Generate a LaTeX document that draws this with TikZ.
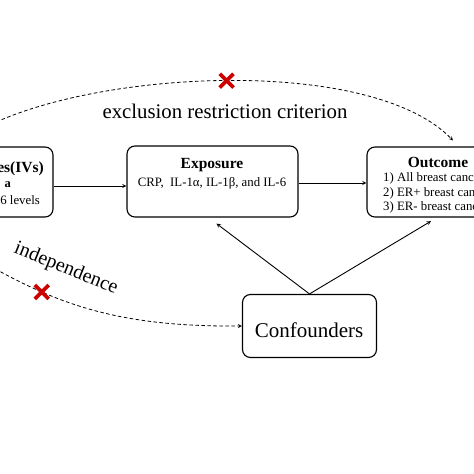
\documentclass[tikz,border=0pt]{standalone}
\usepackage{fontspec}
\setmainfont{Liberation Serif}
\usetikzlibrary{shapes,arrows,positioning,calc}

\begin{document}
\begin{tikzpicture}[
    x=1pt, y=-1pt,
    box/.style={rectangle, rounded corners=8pt, draw, line width=1.1pt},
    head/.style={inner sep=0pt, font=\fontsize{15.5}{18}\selectfont\bfseries},
    body/.style={inner sep=0pt, font=\fontsize{12.8}{14.6}\selectfont},
    arrow/.style={->,>=stealth,line width=0.9pt},
    dasharrow/.style={->,>=stealth,line width=0.8pt,dash pattern=on 3.5pt off 2.5pt},
    nogo/.style={cross out, solid, draw=red!80!black, line width=3.8pt, minimum size=10pt, inner sep=0pt}
]
\useasboundingbox (0,0) rectangle (474,474);

% Boxes
\node[box, minimum width=120pt, minimum height=70pt] (ivs) at (-7,182) {};
\node[box, minimum width=171pt, minimum height=71pt] (expo) at (212.5,181.5) {};
\node[box, minimum width=140pt, minimum height=70pt] (outc) at (437,182) {};
\node[box, minimum width=134pt, minimum height=63pt] (conf) at (309.5,326) {};

% Box texts
\node[head, anchor=east] (ivstitle) at (44,169) {es(IVs)};
\node[body, font=\fontsize{12.5}{14.6}\selectfont\bfseries, anchor=east] (ivsline) at (11,185) {a};
\node[body, anchor=east] (ivslevel) at (40,200) {-6 levels};

\node[head] (expotitle) at (212,165) {Exposure};
\node[body] (expoline) at (212,183) {CRP,\ \ IL-1α, IL-1β, and IL-6};

\node[head] (outctitle) at (438,162) {Outcome};
\node[body, anchor=west, align=left] (outclist) at (383,193) {1) All breast cancer\\2) ER+ breast cancer\\3) ER- breast cancer};

\node[inner sep=0pt, font=\fontsize{21}{24}\selectfont] (conftext) at (309,330) {Confounders};

% Arrows
\draw[arrow] ([yshift=-4pt]ivs.east) -- ([yshift=-4pt]ivs.east -| expo.west);
\draw[arrow] ([yshift=-1.5pt]expo.east) -- ([yshift=-1.5pt]expo.east -| outc.west);
\draw[arrow, shorten >=10pt] (conf.north) -- ([xshift=-4pt]expo.south);
\draw[arrow, shorten >=7pt] (conf.north) -- (outc.south);

% Violated assumptions
\coordinate (topstart) at (-20,130);
\coordinate (lowstart) at (-10,266);
\draw[dasharrow] (topstart) .. controls (90,70) and (370,55) .. ($(outc.north)+(16,-6)$)
    node[nogo, pos=0.5] (cross1) {};
\draw[dasharrow] (lowstart) .. controls (60,305) and (120,327) .. (conf.west)
    node[nogo, pos=0.25] (cross2) {};

\node[font=\fontsize{20.8}{23}\selectfont] (excl) at (225,111) {exclusion restriction criterion};
\node[font=\fontsize{20}{22}\selectfont, rotate=-22] (indep) at (66,269) {independence};

\end{tikzpicture}
\end{document}
